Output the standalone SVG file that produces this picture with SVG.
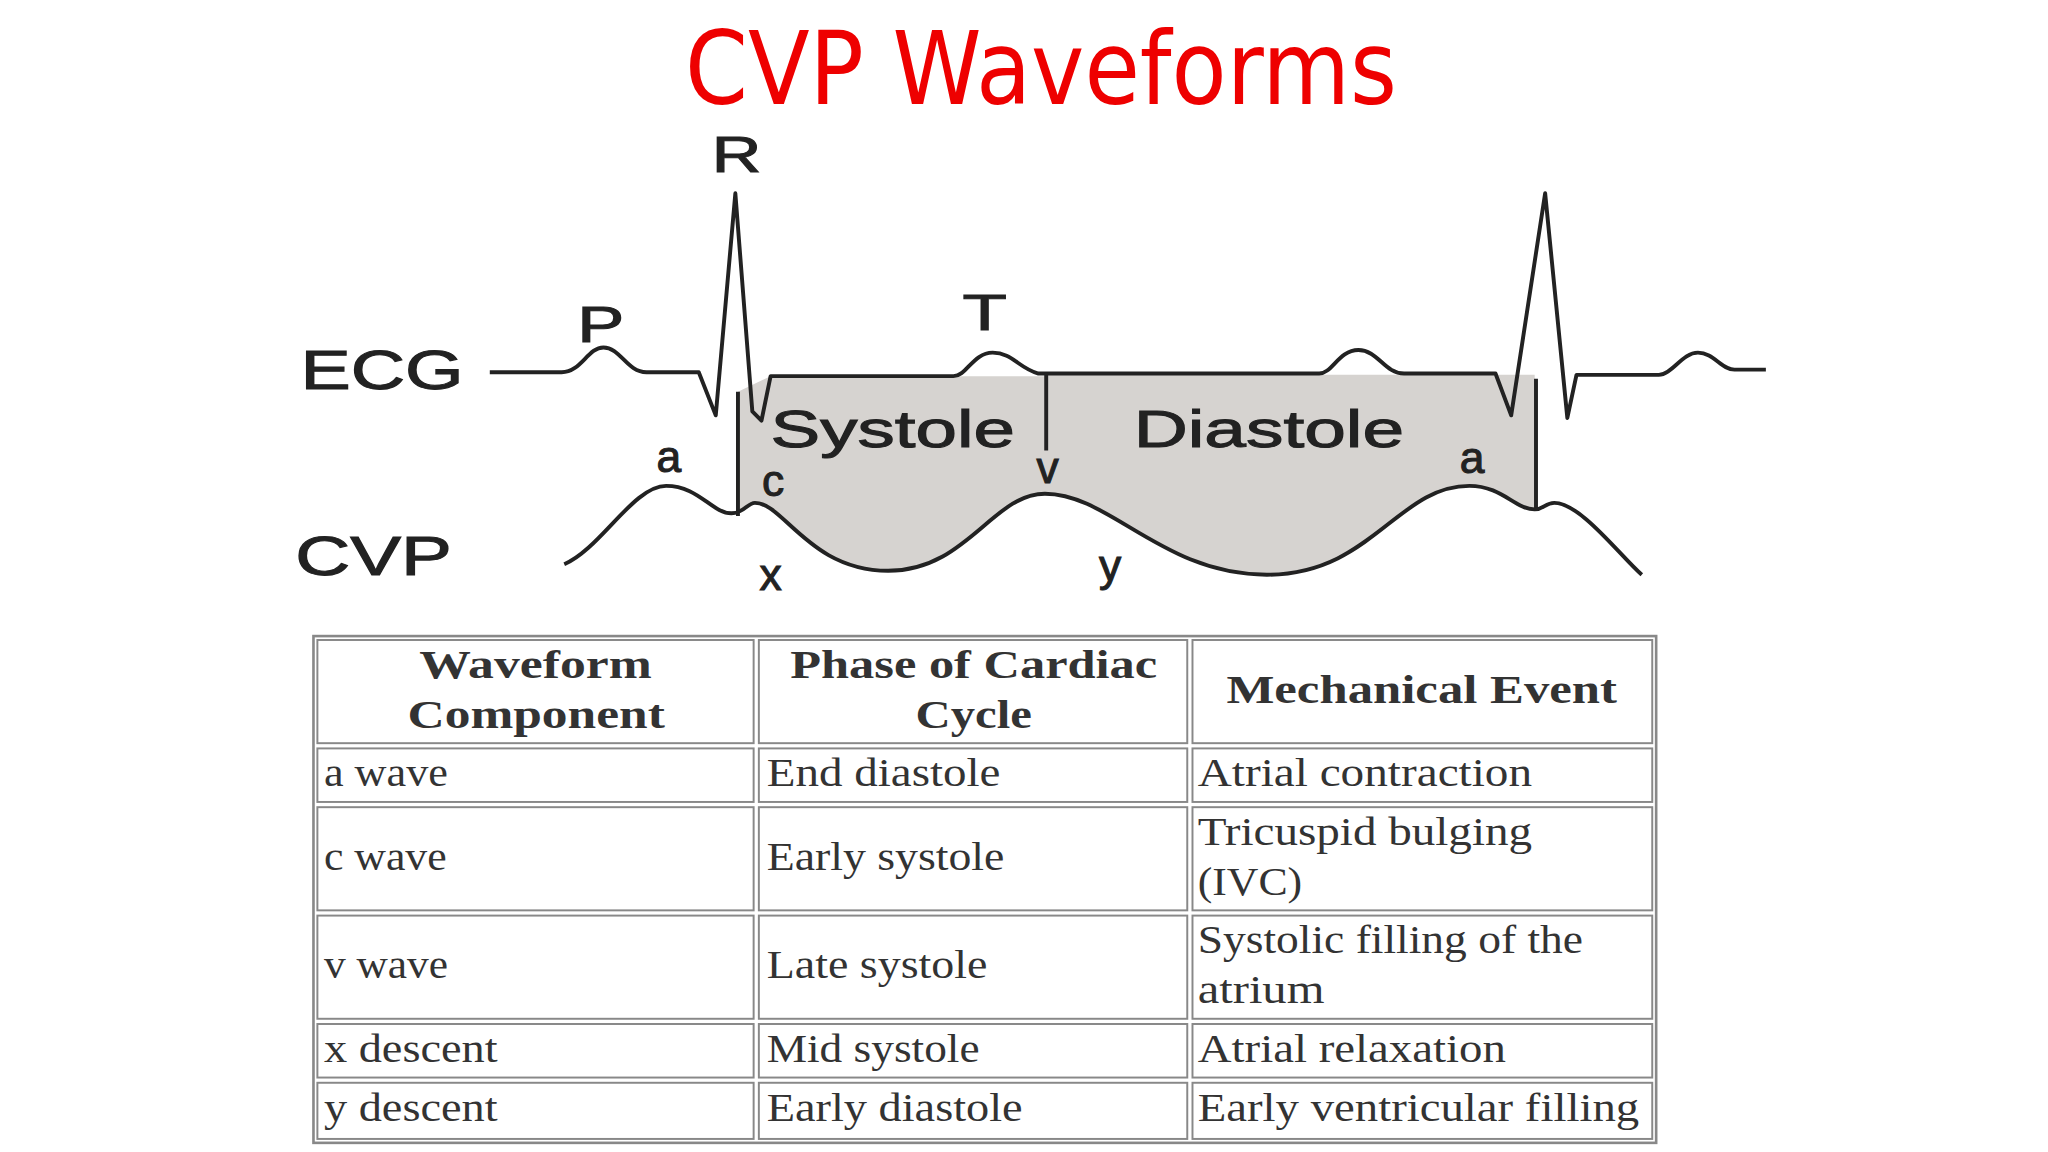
<svg xmlns="http://www.w3.org/2000/svg" width="2048" height="1152" viewBox="0 0 2048 1152">
<style>
.ln{fill:none;stroke:#222;stroke-width:3;stroke-linejoin:round}
.lb{font-family:"Liberation Sans",Arial,sans-serif;fill:#222;stroke:#222;stroke-width:0.8}
.cell{fill:#fff;stroke:#888;stroke-width:1.5}
.tt{font-family:"Liberation Serif","Times New Roman",serif;font-size:30px;fill:#333}
.th{font-family:"Liberation Serif","Times New Roman",serif;font-size:30px;font-weight:bold;fill:#333}
</style>
<rect width="2048" height="1152" fill="#fff"/>
<g transform="scale(1.30612)">
<text x="797" y="80" font-family="DejaVu Sans" font-size="78" fill="#ee0000" text-anchor="middle" textLength="545" lengthAdjust="spacingAndGlyphs">CVP Waveforms</text>
<g id="shade">
<path d="M565,300 L590,288 L800,288 L800,287 L1175,287 L1175,390 C1160,390 1150,372 1125,372 C1070,372 1050,440 970,440 C890,440 850,378 800,378 C760,378 740,437 680,437 C620,437 600,385 580,385 C572,385 568,393 565,393 Z" fill="#d6d3d0"/>
</g>
<g id="ecg">
<path class="ln" d="M375,285 L430,285 C445,285 450,266 462,266 C475,266 480,285 495,285 L535,285 L548,318 L563,148 L576,315 L583,322 L590,288 L730,288 C740,288 745,270 760,270 C775,270 780,282 795,286 L1010,286 C1020,286 1025,268 1040,268 C1055,268 1060,286 1075,286 L1145,286 L1157,318 L1183,148 L1200,320 L1207,287 L1270,287 C1280,287 1288,270 1300,270 C1312,270 1318,283 1328,283 L1352,283"/>
<path class="ln" d="M565,300 L565,395 M801,285 L801,345 M1176,290 L1176,390"/>
</g>
<g id="cvp">
<path class="ln" d="M432,432 C460,420 485,372 510,372 C535,372 545,393 560,393 C570,393 572,385 578,385 C600,385 620,437 680,437 C740,437 760,378 800,378 C850,378 890,440 970,440 C1050,440 1070,372 1125,372 C1150,372 1160,390 1175,390 C1182,390 1183,385 1190,385 C1210,385 1240,425 1257,440"/>
</g>
<g id="labels" class="lb">
<text x="545" y="132" font-size="38" textLength="38" lengthAdjust="spacingAndGlyphs">R</text>
<text x="442" y="262" font-size="38" textLength="36" lengthAdjust="spacingAndGlyphs">P</text>
<text x="737" y="253" font-size="38" textLength="34" lengthAdjust="spacingAndGlyphs">T</text>
<text x="230" y="298" font-size="42" textLength="125" lengthAdjust="spacingAndGlyphs">ECG</text>
<text x="226" y="440" font-size="42" textLength="120" lengthAdjust="spacingAndGlyphs">CVP</text>
<text x="512" y="361" font-size="34" text-anchor="middle">a</text>
<text x="592" y="380" font-size="34" text-anchor="middle">c</text>
<text x="802" y="370" font-size="34" text-anchor="middle">v</text>
<text x="1127" y="362" font-size="34" text-anchor="middle">a</text>
<text x="590" y="452" font-size="34" text-anchor="middle">x</text>
<text x="850" y="445" font-size="34" text-anchor="middle">y</text>
<text x="590" y="342" font-size="40" textLength="187" lengthAdjust="spacingAndGlyphs">Systole</text>
<text x="868" y="342" font-size="40" textLength="207" lengthAdjust="spacingAndGlyphs">Diastole</text>
</g>
<g id="table">
<rect x="240" y="487" width="1028" height="388" fill="#fff" stroke="#888" stroke-width="2"/>
<rect class="cell" x="243" y="490" width="334" height="79"/><rect class="cell" x="581" y="490" width="328" height="79"/><rect class="cell" x="913" y="490" width="352" height="79"/>
<rect class="cell" x="243" y="573" width="334" height="41"/><rect class="cell" x="581" y="573" width="328" height="41"/><rect class="cell" x="913" y="573" width="352" height="41"/>
<rect class="cell" x="243" y="618" width="334" height="79"/><rect class="cell" x="581" y="618" width="328" height="79"/><rect class="cell" x="913" y="618" width="352" height="79"/>
<rect class="cell" x="243" y="701" width="334" height="79"/><rect class="cell" x="581" y="701" width="328" height="79"/><rect class="cell" x="913" y="701" width="352" height="79"/>
<rect class="cell" x="243" y="784" width="334" height="41"/><rect class="cell" x="581" y="784" width="328" height="41"/><rect class="cell" x="913" y="784" width="352" height="41"/>
<rect class="cell" x="243" y="829" width="334" height="43"/><rect class="cell" x="581" y="829" width="328" height="43"/><rect class="cell" x="913" y="829" width="352" height="43"/>
<text class="th" x="321" y="519" textLength="178" lengthAdjust="spacingAndGlyphs">Waveform</text><text class="th" x="312" y="557" textLength="197" lengthAdjust="spacingAndGlyphs">Component</text>
<text class="th" x="605" y="519" textLength="281" lengthAdjust="spacingAndGlyphs">Phase of Cardiac</text><text class="th" x="701" y="557" textLength="89" lengthAdjust="spacingAndGlyphs">Cycle</text>
<text class="th" x="939" y="538" textLength="299" lengthAdjust="spacingAndGlyphs">Mechanical Event</text>
<text class="tt" x="248" y="602" textLength="95" lengthAdjust="spacingAndGlyphs">a wave</text><text class="tt" x="587" y="602" textLength="179" lengthAdjust="spacingAndGlyphs">End diastole</text><text class="tt" x="917" y="602" textLength="256" lengthAdjust="spacingAndGlyphs">Atrial contraction</text>
<text class="tt" x="248" y="666" textLength="94" lengthAdjust="spacingAndGlyphs">c wave</text><text class="tt" x="587" y="666" textLength="182" lengthAdjust="spacingAndGlyphs">Early systole</text><text class="tt" x="917" y="647" textLength="256" lengthAdjust="spacingAndGlyphs">Tricuspid bulging</text><text class="tt" x="917" y="685" textLength="80" lengthAdjust="spacingAndGlyphs">(IVC)</text>
<text class="tt" x="248" y="749" textLength="95" lengthAdjust="spacingAndGlyphs">v wave</text><text class="tt" x="587" y="749" textLength="169" lengthAdjust="spacingAndGlyphs">Late systole</text><text class="tt" x="917" y="730" textLength="295" lengthAdjust="spacingAndGlyphs">Systolic filling of the</text><text class="tt" x="917" y="768" textLength="97" lengthAdjust="spacingAndGlyphs">atrium</text>
<text class="tt" x="248" y="813" textLength="133" lengthAdjust="spacingAndGlyphs">x descent</text><text class="tt" x="587" y="813" textLength="163" lengthAdjust="spacingAndGlyphs">Mid systole</text><text class="tt" x="917" y="813" textLength="236" lengthAdjust="spacingAndGlyphs">Atrial relaxation</text>
<text class="tt" x="248" y="858" textLength="133" lengthAdjust="spacingAndGlyphs">y descent</text><text class="tt" x="587" y="858" textLength="196" lengthAdjust="spacingAndGlyphs">Early diastole</text><text class="tt" x="917" y="858" textLength="338" lengthAdjust="spacingAndGlyphs">Early ventricular filling</text>
</g>
</g>
</svg>
